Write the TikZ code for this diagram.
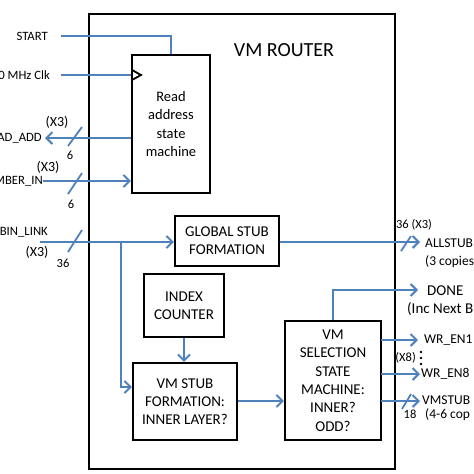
\documentclass[tikz,border=0pt]{standalone}
\usepackage{fontspec}
\setmainfont{Carlito}
\usetikzlibrary{arrows.meta}
\definecolor{sigblue}{RGB}{79,129,189}
\begin{document}
\begin{tikzpicture}[x=1pt,y=-1pt,
  blk/.style={draw=black,line width=2.3pt},
  sig/.style={draw=sigblue,line width=2.2pt},
  arr/.style={sig,-{Straight Barb[length=6pt,width=12pt,line width=2pt]}},
  slash/.style={draw=sigblue,line width=1.8pt},
  lbl/.style={inner sep=0pt,font=\fontsize{12.7}{15}\selectfont},
  mult/.style={inner sep=0pt,font=\fontsize{14}{16}\selectfont},
  rlbl/.style={inner sep=0pt,font=\fontsize{13.5}{16}\selectfont},
  num/.style={inner sep=0pt,font=\fontsize{12.5}{14}\selectfont},
  boxtxt/.style={blk,align=center,font=\fontsize{15}{18.3}\selectfont,inner sep=0pt}]
\useasboundingbox (0,0) rectangle (474,474);
% outer box and title
\node[blk,minimum width=306pt,minimum height=455pt,inner sep=0pt] (router) at (242,241.5) {};
\node[inner sep=0pt,font=\fontsize{20}{24}\selectfont] (title) at (284,50) {VM ROUTER};
% blocks
\node[boxtxt,font=\fontsize{14.5}{18.3}\selectfont,minimum width=78pt,minimum height=138pt] (read) at (171,124) {Read\\address\\state\\machine};
\node[boxtxt,minimum width=104pt,minimum height=50pt] (global) at (227,241) {GLOBAL STUB\\FORMATION};
\node[boxtxt,minimum width=80pt,minimum height=63pt] (index) at (184,305.5) {INDEX\\COUNTER};
\node[boxtxt,minimum width=104pt,minimum height=77pt] (vmstub) at (185,401.5) {VM STUB\\FORMATION:\\INNER LAYER?};
\node[boxtxt,minimum width=96pt,minimum height=119pt] (vmsel) at (333,380.5) {VM\\SELECTION\\STATE\\MACHINE:\\INNER?\\ODD?};
% clock mark
\draw[black,line width=1.8pt] (132,70) -- (141,75) -- (132,80);
% left labels
\node[lbl,anchor=east] (start) at (48,36) {START};
\node[lbl,anchor=east] (clk) at (50,75) {0 MHz Clk};
\node[lbl,anchor=east] (readadd) at (42,138) {AD\_ADD};
\node[mult] (x3a) at (57,122) {(X3)};
\node[num] (sixa) at (70,155) {6};
\node[lbl,anchor=east] (mberin) at (43,181) {MBER\_IN};
\node[mult] (x3b) at (48,167) {(X3)};
\node[num] (sixb) at (71,204) {6};
\node[lbl,anchor=east] (binlink) at (48,232) {BIN\_LINK};
\node[mult] (x3c) at (37,252) {(X3)};
\node[num] (n36a) at (63,263) {36};
% right labels
\node[num] (n36b) at (414,225) {36 (X3)};
\node[rlbl,anchor=west] (allstub) at (425,243) {ALLSTUB};
\node[rlbl,anchor=west] (copies) at (425,262) {(3 copies};
\node[rlbl,font=\fontsize{15}{17}\selectfont,anchor=west] (done) at (427,291) {DONE};
\node[rlbl,font=\fontsize{15}{17}\selectfont,anchor=west] (incnext) at (407,309) {(Inc Next B};
\node[rlbl,anchor=west] (wren1) at (424,340) {WR\_EN1};
\node[num,anchor=east] (x8) at (416,358) {(X8)};
\node[rlbl,anchor=west] (wren8) at (421,374) {WR\_EN8};
\node[rlbl,anchor=west] (vmstubo) at (422,400) {VMSTUB};
\node[num] (n18) at (410,414) {18};
\node[rlbl,anchor=west] (copies2) at (425,415) {(4-6 cop};
\fill (421,352) circle (1.4pt) (421,358) circle (1.4pt) (421,364) circle (1.4pt);
% coordinates
\coordinate (startin) at (61,36);
\coordinate (clkin) at (61,75);
\coordinate (raend) at (45,138);
\coordinate (mbin) at (43,181);
\coordinate (blin) at (40,242);
\coordinate (br) at (121,242);
\coordinate (brturn) at (121,387);
\coordinate (allend) at (420,242);
\coordinate (doneend) at (418,290);
\coordinate (w1s) at (381,340);
\coordinate (w1e) at (418,340);
\coordinate (w8s) at (381,374);
\coordinate (w8e) at (420,374);
\coordinate (vss) at (381,401);
\coordinate (vse) at (420,401);
% connectors
\draw[sig] (startin) -| (read.north);
\draw[sig] (clkin) -- (read.west |- clkin);
\draw[arr] (read.west |- raend) -- (raend);
\draw[arr] (mbin) -- (read.west |- mbin);
\draw[arr] (blin) -- (global.west |- blin);
\draw[arr] (br) -- (brturn) -- (vmstub.west |- brturn);
\draw[arr] (index.south) -- (index.south |- vmstub.north);
\draw[arr] (vmstub.east |- vss) -- (vmsel.west |- vss);
\draw[arr] (global.east |- allend) -- (allend);
\draw[arr] (vmsel.north) |- (doneend);
\draw[arr] (w1s) -- (w1e);
\draw[arr] (w8s) -- (w8e);
\draw[arr] (vss) -- (vse);
% bus slashes
\draw[slash] (68,146) -- (82,127);
\draw[slash] (68,194) -- (82,173);
\draw[slash] (68,252) -- (82,230);
\draw[slash] (401,251) -- (411,236);
\draw[slash] (402,409) -- (411,394);
\end{tikzpicture}
\end{document}
